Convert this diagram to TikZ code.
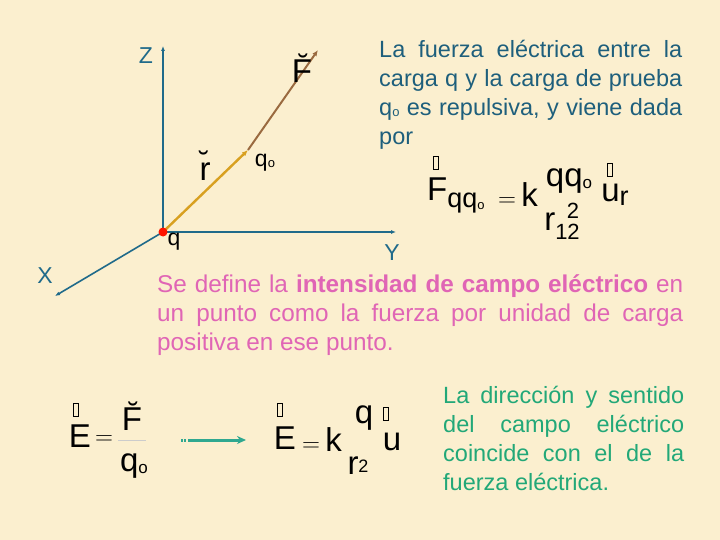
\documentclass[tikz,border=0pt]{standalone}
\usepackage{fontspec}
\setmainfont{Liberation Sans}
\usetikzlibrary{arrows.meta}
\definecolor{bg}{HTML}{FBEFCF}
\definecolor{axis}{HTML}{1F6A8A}
\definecolor{topc}{HTML}{1E5F7C}
\definecolor{pinkc}{HTML}{E065B5}
\definecolor{greenc}{HTML}{22A878}
\definecolor{gold}{HTML}{D8A020}
\definecolor{brownc}{HTML}{9A6A40}
\definecolor{arrc}{HTML}{2FA890}
\begin{document}
\begin{tikzpicture}[x=1pt,y=-1pt,
  ax/.style={draw=axis,line width=1.6pt,-{Latex[length=5pt,width=4pt]}},
  lbl/.style={inner sep=0pt,font=\fontsize{23}{23}\selectfont},
  math/.style={inner sep=0pt,font=\fontsize{33}{33}\selectfont},
  gbox/.style={draw=black,line width=0.6pt,minimum width=5pt,minimum height=13pt,inner sep=0pt},
  para/.style={inner sep=0pt,align=justify,anchor=north west,font=\fontsize{23.5}{29}\selectfont}]
\fill[bg] (0,0) rectangle (720,540);
\useasboundingbox (0,0) rectangle (720,540);
% axes
\coordinate (O) at (163,232);
\coordinate (Zt) at (163,46);
\coordinate (Yt) at (396,232);
\coordinate (Xt) at (55,296);
\coordinate (M) at (248,150);
\coordinate (Ft) at (318,50);
\draw[ax] (O) -- (Zt);
\draw[ax] (O) -- (Yt);
\draw[ax] (O) -- (Xt);
\draw[draw=brownc,line width=2pt,-{Latex[length=6pt,width=5pt]}] (M) -- (Ft);
\draw[draw=gold,line width=2.4pt,-{Latex[length=6pt,width=5pt]}] (O) -- (M);
\fill[red!85!orange] (O) circle (4.5pt);
\node[lbl,text=axis] (z) at (146,56) {Z};
\node[lbl,text=axis] (y) at (392,253) {Y};
\node[lbl,text=axis] (x) at (45,276) {X};
\node[lbl] (q) at (174,242) {q};
\node[lbl] (qo) at (265,163) {q\raisebox{-1pt}{\fontsize{13}{13}\selectfont o}};
\node[math] (r) at (205,166) {\u{r}};
\node[math] (F) at (302,68) {\u{F}};
% top text
\node[para,text=topc,text width=303pt] (t1) at (379,40) {La fuerza eléctrica entre la\linebreak carga q y la carga de prueba\linebreak q\raisebox{-1pt}{\fontsize{13}{13}\selectfont o} es repulsiva, y viene dada\linebreak por};
% formula 1
\node[math,anchor=west] (f1) at (427,195) {F\raisebox{-7pt}{\fontsize{27}{27}\selectfont qq\raisebox{-2pt}{\fontsize{13}{13}\selectfont o}}};
\node[gbox] (b1) at (436,163) {};
\node[math] (eq1) at (518,195) {$=$\,k};
\node[math] (num1) at (569,181) {qq\raisebox{-2pt}{\fontsize{17}{17}\selectfont o}};
\node[math] (den1) at (562,226) {r\raisebox{-9pt}{\fontsize{22}{22}\selectfont 12}};
\node[font=\fontsize{22}{22}\selectfont,inner sep=0pt] (sq1) at (573,211) {2};
\node[math] (u1) at (615,195) {u\raisebox{-4pt}{\fontsize{27}{27}\selectfont r}};
\node[gbox] (b2) at (610,170) {};
% middle text
\node[para,text=pinkc,text width=526pt,font=\fontsize{24.3}{29}\selectfont] (t2) at (157,274) {Se define la \textbf{intensidad de campo eléctrico} en\linebreak un punto como la fuerza por unidad de carga\linebreak positiva en ese punto.};
% bottom left formula
\node[math] (E1) at (80,436) {E};
\node[gbox] (b3) at (76,410) {};
\node[math] (eq2) at (104,440) {$=$};
\node[math] (F2) at (132,416) {\u{F}};
\draw[gray!40,line width=1pt] (118,440) -- (146,440);
\node[math] (qo2) at (134,466) {q\raisebox{-2pt}{\fontsize{17}{17}\selectfont o}};
% arrow
\coordinate (a2) at (246,440);
\fill[arrc] (181,438.5) rectangle (183,441.5);
\fill[arrc] (184,438.5) rectangle (186,441.5);
\draw[arrc,line width=3pt,-{Stealth[length=9pt,width=8pt]}] (188,440) -- (a2);
% bottom formula 2
\node[math] (E2) at (285,438) {E};
\node[gbox] (b4) at (280,410) {};
\node[math] (eq3) at (322,440) {$=$\,k};
\node[math] (q3) at (364,418) {q};
\node[math] (r3) at (358,466) {r\raisebox{2pt}{\fontsize{18}{18}\selectfont 2}};
\node[math] (u3) at (392,442) {u};
\node[gbox] (b5) at (386,414) {};
% bottom right text
\node[para,text=greenc,text width=241pt,font=\fontsize{23.5}{29}\selectfont] (t3) at (443,386) {La dirección y sentido\linebreak del campo eléctrico\linebreak coincide con el de la\linebreak fuerza eléctrica.};
\end{tikzpicture}
\end{document}
